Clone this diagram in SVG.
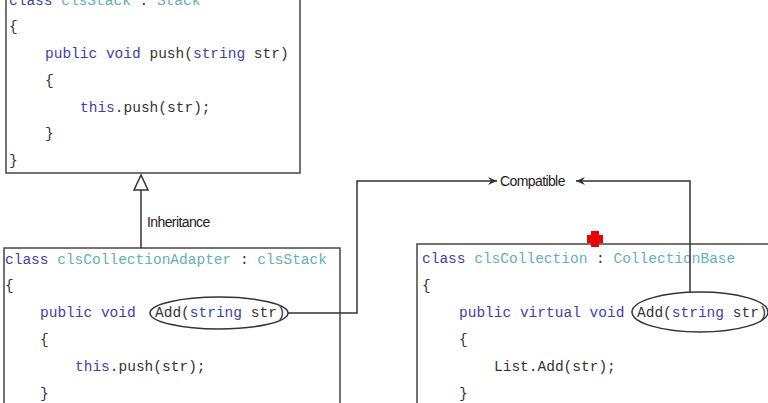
<svg xmlns="http://www.w3.org/2000/svg" width="768" height="403" viewBox="0 0 768 403">
<style>
.c{font-family:"Liberation Mono","DejaVu Sans Mono",monospace;font-size:14.5px;fill:#333;}
.k{fill:#4040b0;}
.t{fill:#5fb3ad;}
.box{fill:#fff;stroke:#444;stroke-width:1.5;}
.ln{fill:none;stroke:#333;stroke-width:1.5;}
.lbl{font-family:"Liberation Sans Narrow","Liberation Sans",Arial,sans-serif;font-size:14px;fill:#222;letter-spacing:-0.6px;}
</style>
<defs>
<marker id="ar" markerWidth="10" markerHeight="8" refX="9" refY="4" orient="auto" markerUnits="userSpaceOnUse"><path d="M0,0 L9,4 L0,8 L3,4 Z" fill="#333"/></marker>
</defs>
<rect width="768" height="403" fill="#fff"/>
<g id="clsStack">
<rect class="box" x="6" y="-10" width="294" height="183"/>
<text class="c" x="9" y="5"><tspan class="k">class</tspan> <tspan class="t">clsStack</tspan> : <tspan class="t">Stack</tspan></text>
<text class="c" x="9" y="31">{</text>
<text class="c" x="45" y="58"><tspan class="k">public</tspan> <tspan class="k">void</tspan> push(<tspan class="k">string</tspan> str)</text>
<text class="c" x="45" y="85">{</text>
<text class="c" x="80" y="112"><tspan class="k">this</tspan>.push(str);</text>
<text class="c" x="45" y="138">}</text>
<text class="c" x="9" y="165">}</text>
</g>
<g id="clsCollectionAdapter">
<rect class="box" x="4" y="248" width="336" height="170"/>
<text class="c" x="5" y="264"><tspan class="k">class</tspan> <tspan class="t">clsCollectionAdapter</tspan> : <tspan class="t">clsStack</tspan></text>
<text class="c" x="5" y="290">{</text>
<text class="c" x="40" y="317"><tspan class="k">public</tspan>  <tspan class="k">void</tspan></text>
<text class="c" x="155" y="317">Add(<tspan class="k">string</tspan> str)</text>
<ellipse class="ln" cx="219" cy="313" rx="69" ry="16"/>
<text class="c" x="40" y="344">{</text>
<text class="c" x="75" y="371"><tspan class="k">this</tspan>.push(str);</text>
<text class="c" x="40" y="398">}</text>
</g>
<g id="clsCollection">
<rect class="box" x="417" y="244" width="360" height="170"/>
<text class="c" x="422" y="263"><tspan class="k">class</tspan> <tspan class="t">clsCollection</tspan> : <tspan class="t">CollectionBase</tspan></text>
<text class="c" x="422" y="290">{</text>
<text class="c" x="459" y="317"><tspan class="k">public</tspan> <tspan class="k">virtual</tspan> <tspan class="k">void</tspan></text>
<text class="c" x="637" y="317">Add(<tspan class="k">string</tspan> str)</text>
<ellipse class="ln" cx="700" cy="312" rx="68" ry="20"/>
<text class="c" x="459" y="344">{</text>
<text class="c" x="494" y="371">List.Add(str);</text>
<text class="c" x="459" y="398">}</text>
</g>
<g id="labels">
<text class="lbl" x="147" y="227">Inheritance</text>
<text class="lbl" x="500" y="186">Compatible</text>
</g>
<g id="connectors">
<line class="ln" x1="141" y1="248" x2="141" y2="190"/>
<polygon points="141,175 134,190 148,190" fill="#fff" stroke="#333" stroke-width="1.5"/>
<polyline class="ln" points="288,313 357,313 357,181 497,181" marker-end="url(#ar)"/>
<polyline class="ln" points="690,292 690,181 576,181" marker-end="url(#ar)"/>
</g>
<path d="M591,231 h8 v4 h4 v8 h-4 v4 h-8 v-4 h-4 v-8 h4 Z" fill="#e00"/>
</svg>
